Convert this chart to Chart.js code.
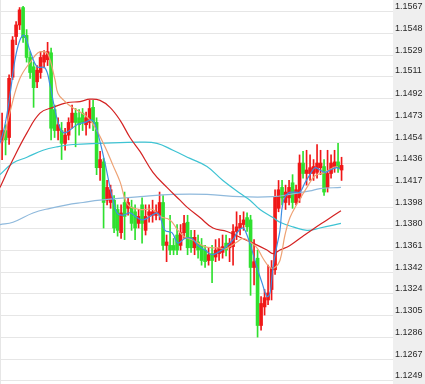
<!DOCTYPE html>
<html>
<head>
<meta charset="utf-8">
<script src="https://cdn.jsdelivr.net/npm/chart.js@4/dist/chart.umd.min.js"></script>
<style>
html, body { margin: 0; padding: 0; background: #fff; }
#wrap { width: 425px; height: 384px; }
</style>
</head>
<body>
<div id="wrap"><canvas id="price-chart"></canvas></div>
<script>
// candles, one per bar (red = close above open, green = close below open)
const opens  = [1.1456,1.1464,1.1458,1.1510,1.1545,1.1555,1.1570,1.1546,1.1527,1.1519,
                1.1506,1.1514,1.1523,1.1525,1.1531,1.1482,1.1464,1.1464,1.1453,1.1460,
                1.1471,1.1479,1.1475,1.1479,1.1469,1.1471,1.1484,1.1471,1.1432,1.1437,
                1.1404,1.1402,1.1404,1.1396,1.1376,1.1402,1.1397,1.1398,1.1394,1.1384,
                1.1400,1.1378,1.1391,1.1391,1.1391,1.1391,1.1402,1.1365,1.1365,1.1365,
                1.1374,1.1365,1.1376,1.1385,1.1372,1.1363,1.1368,1.1365,1.1361,1.1352,
                1.1358,1.1355,1.1358,1.1359,1.1367,1.1363,1.1364,1.1377,1.1380,1.1383,
                1.1389,1.1387,1.1346,1.1354,1.1296,1.1312,1.1318,1.1327,1.1344,1.1397,
                1.1415,1.1402,1.1406,1.1419,1.1402,1.1406,1.1436,1.1427,1.1427,1.1427,
                1.1428,1.1432,1.1433,1.1415,1.1427,1.1433,1.1437,1.1430]
const closes = [1.1464,1.1456,1.1509,1.1542,1.1555,1.1568,1.1544,1.1527,1.1514,1.1501,
                1.1516,1.1527,1.1529,1.1532,1.1466,1.1464,1.1469,1.1453,1.1460,1.1471,
                1.1479,1.1471,1.1469,1.1471,1.1475,1.1483,1.1471,1.1432,1.1439,1.1402,
                1.1415,1.1413,1.1380,1.1378,1.1393,1.1390,1.1402,1.1384,1.1380,1.1390,
                1.1384,1.1390,1.1394,1.1394,1.1394,1.1402,1.1365,1.1368,1.1361,1.1361,
                1.1361,1.1376,1.1384,1.1363,1.1363,1.1372,1.1361,1.1352,1.1351,1.1357,
                1.1352,1.1361,1.1363,1.1364,1.1361,1.1367,1.1377,1.1381,1.1384,1.1387,
                1.1381,1.1346,1.1351,1.1296,1.1315,1.1320,1.1324,1.1346,1.1407,1.1413,
                1.1406,1.1411,1.1415,1.1402,1.1413,1.1436,1.1427,1.1430,1.1432,1.1433,
                1.1436,1.1436,1.1411,1.1427,1.1436,1.1437,1.1432,1.1434]
const highs  = [1.1479,1.1469,1.1512,1.1545,1.1558,1.1570,1.1571,1.1551,1.1532,1.1523,
                1.1520,1.1532,1.1533,1.1540,1.1535,1.1486,1.1475,1.1471,1.1466,1.1475,
                1.1486,1.1483,1.1482,1.1483,1.1480,1.1490,1.1490,1.1475,1.1446,1.1440,
                1.1421,1.1417,1.1408,1.1400,1.1400,1.1411,1.1406,1.1404,1.1400,1.1396,
                1.1406,1.1400,1.1400,1.1404,1.1400,1.1411,1.1408,1.1374,1.1391,1.1371,
                1.1383,1.1383,1.1391,1.1391,1.1378,1.1378,1.1374,1.1371,1.1365,1.1363,
                1.1365,1.1370,1.1371,1.1374,1.1374,1.1371,1.1383,1.1394,1.1391,1.1394,
                1.1393,1.1391,1.1370,1.1361,1.1321,1.1327,1.1348,1.1352,1.1413,1.1421,
                1.1421,1.1417,1.1421,1.1426,1.1417,1.1443,1.1446,1.1447,1.1443,1.1439,
                1.1452,1.1447,1.1439,1.1447,1.1443,1.1447,1.1453,1.1441]
const lows   = [1.1439,1.1443,1.1452,1.1508,1.1538,1.1551,1.1540,1.1523,1.1509,1.1484,
                1.1501,1.1509,1.1518,1.1520,1.1456,1.1458,1.1456,1.1439,1.1447,1.1456,
                1.1466,1.1450,1.1460,1.1464,1.1460,1.1466,1.1464,1.1426,1.1421,1.1380,
                1.1400,1.1397,1.1376,1.1373,1.1371,1.1370,1.1391,1.1378,1.1370,1.1380,
                1.1367,1.1374,1.1385,1.1385,1.1387,1.1387,1.1361,1.1351,1.1357,1.1357,
                1.1357,1.1361,1.1371,1.1357,1.1359,1.1357,1.1354,1.1348,1.1346,1.1348,
                1.1333,1.1351,1.1352,1.1354,1.1356,1.1351,1.1348,1.1370,1.1374,1.1378,
                1.1377,1.1322,1.1331,1.1286,1.1292,1.1305,1.1314,1.1318,1.1340,1.1394,
                1.1400,1.1396,1.1400,1.1397,1.1400,1.1402,1.1423,1.1417,1.1421,1.1421,
                1.1423,1.1426,1.1408,1.1411,1.1423,1.1428,1.1428,1.1421]

// moving average lines: [bar position, price]
const maBlue = [[-0.6,1.1453],[0.83,1.1469],[2.26,1.1495],[3.69,1.1525],[5.1,1.1542],[6.3,1.1546],
  [7.97,1.1533],[9.97,1.1519],[12.26,1.1518],[13.69,1.1503],[15.1,1.1482],[16.54,1.1466],
  [17.97,1.1462],[21.4,1.1469],[23.69,1.1471],[25.69,1.1473],[27.11,1.1464],[29.4,1.1436],
  [30.83,1.1415],[31.69,1.1404],[32.83,1.1393],[34.54,1.1391],[36.54,1.1393],[38.54,1.1389],
  [40.26,1.1387],[42.26,1.1390],[44.26,1.1393],[45.11,1.1390],[46.54,1.1378],[48.54,1.1376],
  [50.26,1.1367],[52.26,1.1371],[54.26,1.1371],[55.97,1.1365],[57.97,1.1361],[59.97,1.1357],
  [61.69,1.1359],[63.69,1.1363],[65.97,1.1370],[67.4,1.1377],[68.83,1.1380],[69.97,1.1374],
  [71.4,1.1361],[72.83,1.1346],[74.26,1.1333],[75.69,1.1321],[76.54,1.1324],[77.4,1.1346],
  [78.54,1.1365],[79.4,1.1378],[80.26,1.1402],[81.69,1.1410],[83.69,1.1411],[85.11,1.1411],
  [86.54,1.1419],[87.97,1.1426],[89.4,1.1432],[90.83,1.1430],[92.26,1.1428],[93.69,1.1430],
  [95.69,1.1432],[96.54,1.1431]]
const maOrange = [[0.26,1.1454],[2.26,1.1480],[5.1,1.1509],[8.54,1.1525],[10.26,1.1531],
  [11.7,1.1532],[13.1,1.1530],[15.1,1.1508],[15.97,1.1496],[17.97,1.1489],[19.97,1.1484],
  [22.26,1.1480],[24.54,1.1475],[26.54,1.1467],[29.4,1.1450],[31.69,1.1434],[33.69,1.1420],
  [35.97,1.1400],[39.4,1.1396],[43.1,1.1396],[45.11,1.1390],[47.97,1.1387],[50.26,1.1378],
  [52.26,1.1372],[54.26,1.1370],[55.97,1.1367],[57.97,1.1364],[59.97,1.1363],[61.69,1.1363],
  [63.69,1.1362],[65.11,1.1364],[67.11,1.1368],[68.83,1.1371],[70.83,1.1368],[72.83,1.1363],
  [74.54,1.1354],[76.54,1.1346],[77.97,1.1346],[79.4,1.1352],[80.83,1.1374],[82.26,1.1389],
  [84.54,1.1402],[87.11,1.1415],[89.4,1.1425],[92.26,1.1428],[94.54,1.1432],[95.97,1.1433]]
const maRed = [[-0.6,1.1415],[3.1,1.1439],[7.1,1.1462],[10.83,1.1479],[14.54,1.1484],
  [18.54,1.1488],[22.26,1.1489],[25.11,1.1491],[27.97,1.1490],[30.83,1.1484],[33.69,1.1473],
  [36.54,1.1458],[39.4,1.1446],[43.1,1.1428],[47.11,1.1415],[50.83,1.1404],[52.83,1.1398],
  [56.54,1.1389],[60.26,1.1380],[64.26,1.1377],[67.97,1.1372],[71.69,1.1367],[75.69,1.1361],
  [77.4,1.1358],[79.4,1.1361],[82.26,1.1365],[85.97,1.1373],[88.83,1.1379],[92.83,1.1387],
  [96.83,1.1395]]
const maCyan = [[-0.6,1.1426],[3.1,1.1436],[7.1,1.1441],[11.7,1.1447],[15.69,1.1450],
  [20.26,1.1452],[27.97,1.1453],[39.4,1.1454],[44.26,1.1453],[48.83,1.1447],[53.69,1.1440],
  [58.54,1.1433],[63.1,1.1421],[67.97,1.1410],[70.83,1.1404],[73.69,1.1396],[77.4,1.1389],
  [79.4,1.1385],[83.11,1.1381],[87.11,1.1378],[90.83,1.1380],[96.83,1.1384]]
const maSlate = [[-0.6,1.1383],[3.1,1.1385],[8.83,1.1393],[13.69,1.1397],[18.54,1.1400],
  [23.1,1.1402],[27.97,1.1404],[39.4,1.1407],[48.83,1.1409],[58.54,1.1409],[67.97,1.1407],
  [77.4,1.1407],[82.26,1.1409],[87.97,1.1412],[90.83,1.1414],[96.83,1.1415]]

const tickLabels = ["1.1567","1.1548","1.1529","1.1511","1.1492","1.1473","1.1454","1.1436","1.1417",
                    "1.1398","1.1380","1.1361","1.1342","1.1324","1.1305","1.1286","1.1267","1.1249"]

const upColor = "#f01818"
const downColor = "#2fe02f"

function candleColors() {
	return opens.map((o, i) => closes[i] >= o ? upColor : downColor)
}
function toPoints(arr) {
	return arr.map(p => ({x: p[0], y: p[1]}))
}
function maLine(arr, color) {
	return {
		type: 'line',
		data: toPoints(arr),
		borderColor: color,
		borderWidth: 1.2,
		pointRadius: 0,
		tension: 0.4,
		order: 0
	}
}

// grey strip behind the price labels
const sidePanel = {
	id: 'sidePanel',
	beforeDraw(chart) {
		const {ctx, chartArea, width, height} = chart
		ctx.save()
		ctx.fillStyle = "#ffffff"
		ctx.fillRect(0, 0, width, height)
		ctx.fillStyle = "#efefef"
		ctx.fillRect(chartArea.right, 0, width - chartArea.right, height)
		ctx.restore()
	}
}

const chartElem = document.getElementById('price-chart')

var chart = new Chart(chartElem, {
	type: 'bar',
	data: {
		datasets: [
			maLine(maBlue, "#3d8fe3"),
			maLine(maOrange, "#eea274"),
			maLine(maRed, "#d42222"),
			maLine(maCyan, "#3ec3d3"),
			maLine(maSlate, "#8fb9dc"),
			{
				data: opens.map((o, i) => ({x: i, y: [o, closes[i]]})),
				backgroundColor: candleColors(),
				barThickness: 3,
				minBarLength: 1,
				grouped: false,
				order: 1
			},
			{
				data: opens.map((o, i) => ({x: i, y: [lows[i], highs[i]]})),
				backgroundColor: candleColors(),
				barThickness: 1,
				grouped: false,
				order: 2
			}
		]
	},
	options: {
		responsive: true,
		maintainAspectRatio: false,
		animation: false,
		layout: { padding: 0 },
		plugins: {
			legend: { display: false },
			tooltip: { enabled: false }
		},
		scales: {
			x: {
				type: 'linear',
				min: -0.6,
				max: 111.7,
				offset: false,
				afterBuildTicks: s => { s.ticks = [{value: 96.9}] },
				afterFit: s => { s.height = 0; s.paddingLeft = 0; s.paddingRight = 0 },
				ticks: { display: false },
				grid: { color: "#e6e6e6", drawTicks: false },
				border: { display: false }
			},
			y: {
				type: 'linear',
				position: 'right',
				min: 1.12456,
				max: 1.15765,
				afterBuildTicks: s => { s.ticks = tickLabels.map(t => ({value: Number(t)})) },
				afterFit: s => { s.width = 32; s.paddingTop = 0; s.paddingBottom = 0 },
				ticks: {
					autoSkip: false,
					padding: 2,
					labelOffset: -5,
					color: "#2a2a2a",
					font: { family: "Liberation Sans", size: 9 },
					callback: (v, i) => tickLabels[i]
				},
				grid: { color: "#e6e6e6", drawTicks: false },
				border: { display: false }
			}
		}
	},
	plugins: [sidePanel]
});
</script>
</body>
</html>
